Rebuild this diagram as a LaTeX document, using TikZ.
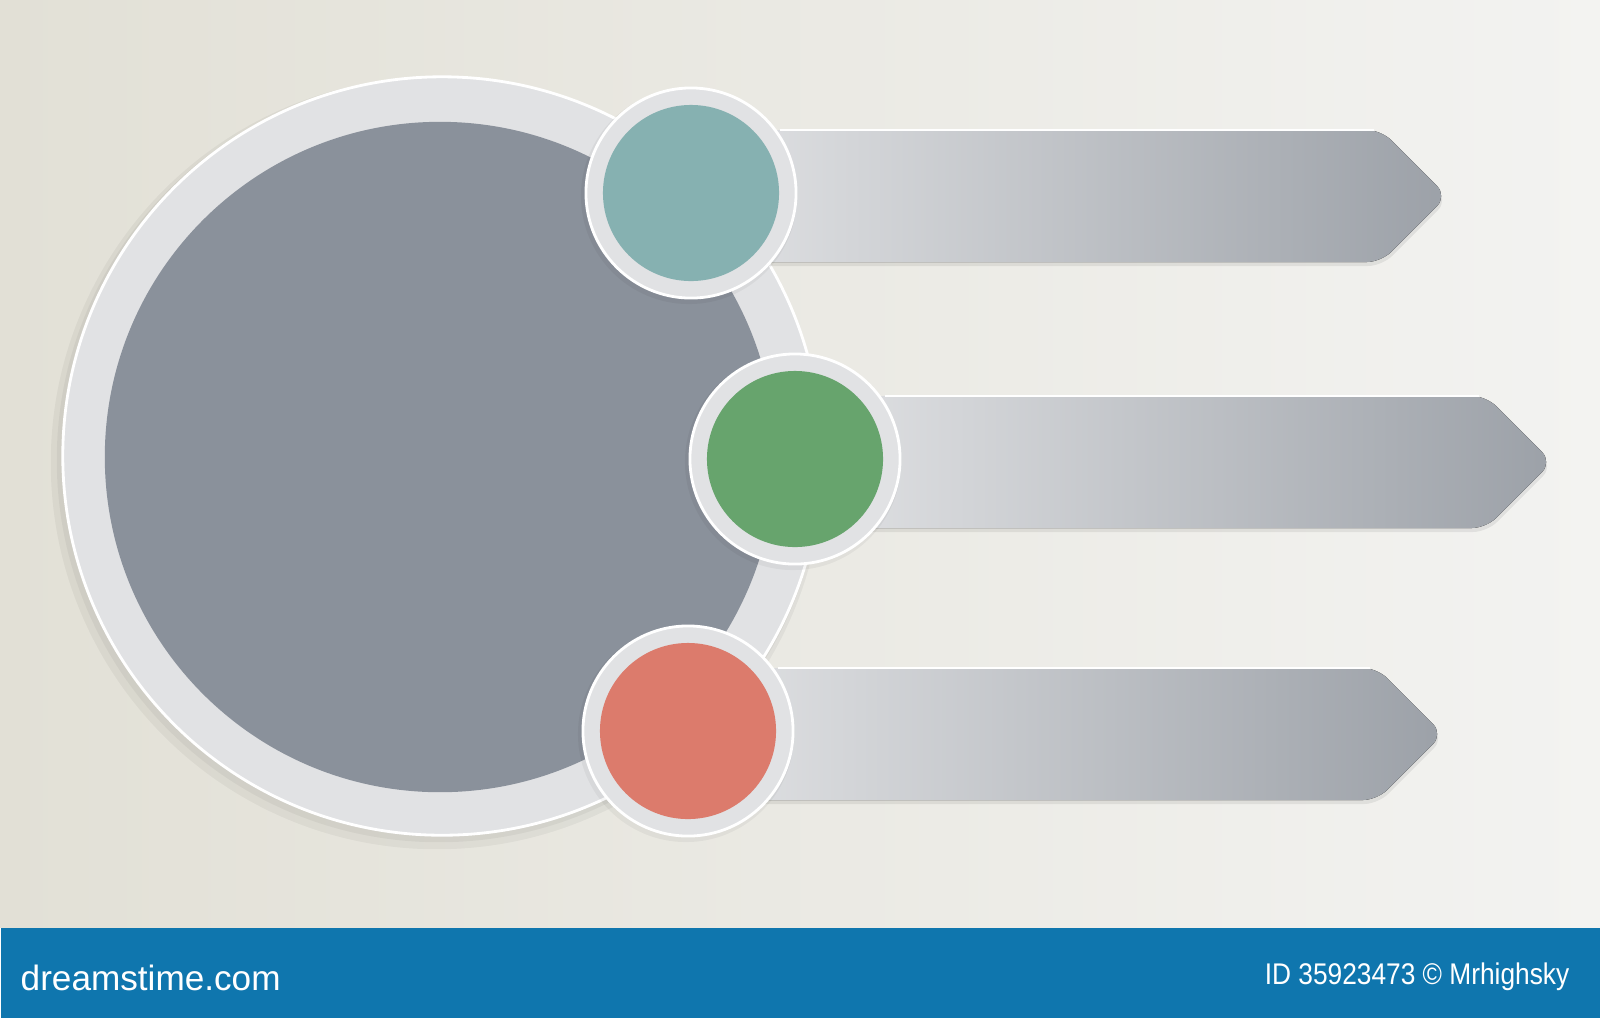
\documentclass[tikz,border=0pt]{standalone}
\usepackage{fontspec}
\setmainfont{Liberation Sans}
\newfontfamily\creditfont[FakeStretch=0.88]{Liberation Sans}
\usetikzlibrary{positioning}
\definecolor{bgleft}{HTML}{E2E0D6}
\definecolor{bgright}{HTML}{F3F3F1}
\definecolor{ringgray}{HTML}{E1E2E4}
\definecolor{hubgray}{HTML}{8A919B}
\definecolor{dotteal}{HTML}{86B1B1}
\definecolor{dotgreen}{HTML}{67A46D}
\definecolor{dotred}{HTML}{DC7B6C}
\definecolor{bannerlight}{HTML}{E2E3E5}
\definecolor{bannerdark}{HTML}{9CA1A8}
\definecolor{barblue}{HTML}{0F76AE}

\begin{document}
\begin{tikzpicture}
		[x=0.01cm, y=-0.01cm,
		 ring/.style = {circle, inner sep=0pt, fill=ringgray, draw=white, line width=0.8pt},
		 hub/.style = {circle, inner sep=0pt, fill=hubgray, minimum size=6.7cm},
		 shade/.style = {circle, inner sep=0pt, fill=black, opacity=0.045},
		 dotring/.style = {ring, minimum size=2.1cm},
		 dot/.style = {circle, inner sep=0pt, minimum size=1.76cm},
		 banner/.style = {rounded corners=4pt, left color=bannerlight, right color=bannerdark},
		 bannershadow/.style = {rounded corners=4pt, fill=black, opacity=0.07},
		 bartext/.style = {text=white, inner sep=0pt}]
		\useasboundingbox (0,0) rectangle (1600,1017);
		\fill[left color=bgleft, right color=bgright] (0,0) rectangle (1600,927);

		% big circle
		\node[shade, minimum size=7.72cm] at (437,463) {};
		\node[shade, minimum size=7.64cm] at (439,460) {};
		\node[ring, minimum size=7.58cm] (hubring) at (442,456) {};
		\node[hub] (hub) at (440,457) {};

		% banners
		\fill[bannershadow] (691,134) -- (1382,134) -- (1448,200) -- (1382,266) -- (691,266) -- cycle;
		\fill[banner] (691,130) -- (1381,130) -- (1447,196) -- (1381,262) -- (691,262) -- cycle;
		\draw[white, line width=0.6pt] (780,130) -- (1374,130);
		\fill[bannershadow] (795,400) -- (1487,400) -- (1553,466) -- (1487,532) -- (795,532) -- cycle;
		\fill[banner] (795,396) -- (1486,396) -- (1552,462) -- (1486,528) -- (795,528) -- cycle;
		\draw[white, line width=0.6pt] (885,396) -- (1479,396);
		\fill[bannershadow] (688,672) -- (1378,672) -- (1444,738) -- (1378,804) -- (688,804) -- cycle;
		\fill[banner] (688,668) -- (1377,668) -- (1443,734) -- (1377,800) -- (688,800) -- cycle;
		\draw[white, line width=0.6pt] (778,668) -- (1370,668);

		% small circles
		\node[shade, minimum size=2.16cm] at (689,196) {};
		\node[dotring] (tealring) at (691,193) {};
		\node[dot, fill=dotteal] (teal) at (tealring.center) {};
		\node[shade, minimum size=2.16cm] at (793,462) {};
		\node[dotring] (greenring) at (795,459) {};
		\node[dot, fill=dotgreen] (green) at (greenring.center) {};
		\node[shade, minimum size=2.16cm] at (686,734) {};
		\node[dotring] (redring) at (688,731) {};
		\node[dot, fill=dotred] (red) at (redring.center) {};

		% bottom bar
		\node[fill=barblue, minimum width=16cm, minimum height=0.9cm, inner sep=0pt, anchor=north west] (bar) at (0,927) {};
		\node[bartext, anchor=base west, font=\fontsize{10}{12}\selectfont] (logo) at (20,990) {dreamstime.com};
		\node[bartext, anchor=base east, font=\creditfont\fontsize{8.5}{10}\selectfont] (credit) at (1570,984) {ID 35923473 © Mrhighsky};
	\end{tikzpicture}
\end{document}
